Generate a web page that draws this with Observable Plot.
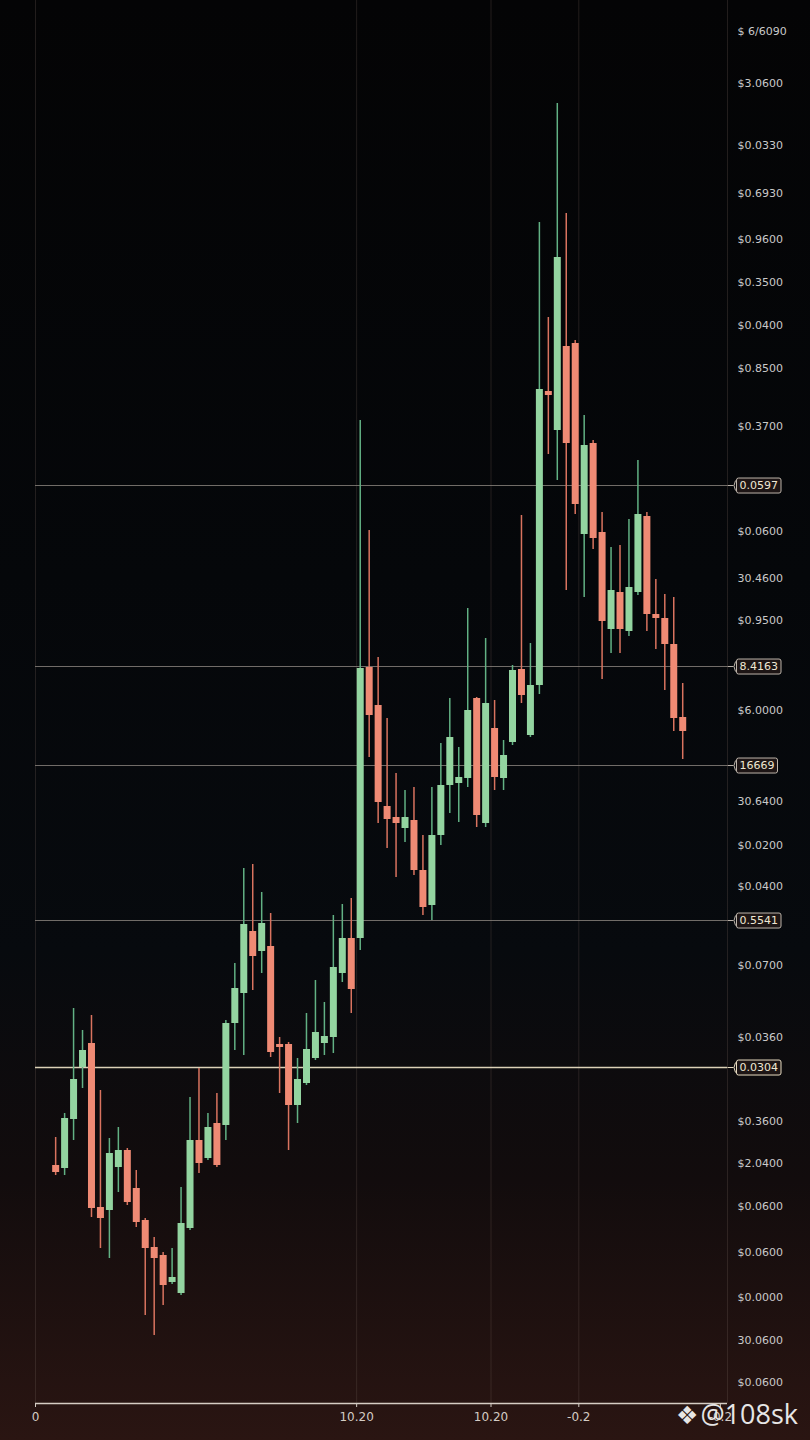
<!DOCTYPE html>
<html><head><meta charset="utf-8">
<script src="https://cdn.jsdelivr.net/npm/d3@7"></script>
<script src="https://cdn.jsdelivr.net/npm/@observablehq/plot@0.6"></script>
<style>
html,body{margin:0;padding:0;}
body{width:810px;height:1440px;overflow:hidden;position:relative;
  background:linear-gradient(to bottom,#040405 0%,#05070a 40%,#070a0e 66%,#120c0d 82%,#2a1512 100%);
  font-family:"DejaVu Sans",sans-serif;}
#chart{position:absolute;left:0;top:0;}
#wm{position:absolute;left:676px;top:1395px;color:#e6e6e6;font-family:"Open Sans",sans-serif;font-size:27px;white-space:nowrap;line-height:38px;}
#wm .logo{font-family:"DejaVu Sans";font-size:25px;margin-right:2px;}
</style></head><body>
<div id="chart"></div>
<div id="wm"><span class="logo">❖</span>@108sk</div>
<script>
// OHLC values
const open  = [0.238,0.235,0.284,0.336,0.360,0.196,0.193,0.236,0.253,0.215,0.183,0.156,0.148,0.121,0.110,0.175,0.263,0.245,0.280,0.278,
               0.380,0.410,0.472,0.452,0.457,0.359,0.359,0.298,0.320,0.345,0.360,0.366,0.430,0.465,0.465,0.736,0.698,0.597,0.586,0.575,
               0.583,0.533,0.498,0.568,0.618,0.620,0.625,0.705,0.580,0.675,0.625,0.661,0.734,0.668,0.718,1.012,0.973,1.057,1.060,0.869,
               0.960,0.871,0.774,0.811,0.772,0.811,0.887,0.789,0.785,0.759,0.686];
const high  = [0.266,0.290,0.395,0.373,0.388,0.313,0.265,0.276,0.255,0.233,0.185,0.166,0.151,0.155,0.216,0.306,0.335,0.290,0.310,0.383,
               0.440,0.535,0.539,0.511,0.490,0.366,0.361,0.345,0.390,0.423,0.401,0.488,0.499,0.505,0.983,0.873,0.746,0.685,0.630,0.613,
               0.616,0.568,0.616,0.660,0.705,0.656,0.795,0.706,0.765,0.703,0.663,0.738,0.888,0.760,1.181,1.086,1.300,1.190,1.063,0.988,
               0.963,0.891,0.856,0.858,0.884,0.943,0.891,0.824,0.809,0.806,0.720];
const low   = [0.228,0.228,0.263,0.315,0.186,0.155,0.145,0.211,0.198,0.176,0.088,0.068,0.098,0.119,0.108,0.173,0.230,0.243,0.236,0.263,
               0.353,0.348,0.413,0.430,0.346,0.310,0.253,0.280,0.318,0.343,0.348,0.350,0.421,0.390,0.453,0.646,0.580,0.555,0.526,0.561,
               0.528,0.488,0.483,0.558,0.590,0.581,0.616,0.576,0.576,0.613,0.613,0.658,0.700,0.666,0.709,0.949,0.923,0.813,0.889,0.806,
               0.854,0.724,0.750,0.750,0.767,0.808,0.772,0.754,0.713,0.672,0.644];
const close = [0.231,0.285,0.324,0.353,0.195,0.185,0.250,0.253,0.201,0.181,0.155,0.145,0.118,0.126,0.180,0.263,0.240,0.276,0.238,0.380,
               0.415,0.479,0.447,0.480,0.351,0.356,0.298,0.324,0.354,0.371,0.367,0.436,0.465,0.414,0.735,0.688,0.601,0.584,0.580,0.586,
               0.533,0.496,0.568,0.618,0.666,0.626,0.693,0.588,0.700,0.626,0.648,0.733,0.708,0.718,1.014,1.008,1.146,0.960,0.899,0.958,
               0.865,0.782,0.813,0.774,0.816,0.889,0.789,0.785,0.759,0.685,0.672];

// right axis tick labels (as shown)
const yTickValues = [1.372,1.320,1.258,1.210,1.164,1.121,1.078,1.035,0.977,0.872,0.825,0.783,0.693,0.602,0.558,0.517,0.438,0.366,0.282,0.240,0.197,0.151,0.106,0.063,0.021];
const yTickLabels = ["$ 6/6090","$3.0600","$0.0330","$0.6930","$0.9600","$0.3500","$0.0400","$0.8500","$0.3700","$0.0600","30.4600","$0.9500","$6.0000","30.6400","$0.0200","$0.0400","$0.0700","$0.0360","$0.3600","$2.0400","$0.0600","$0.0600","$0.0000","30.0600","$0.0600"];

// highlighted price levels with boxed labels
const levelValues = [0.918,0.737,0.638,0.483,0.336];
const levelLabels = ["0.0597","8.4163","16669","0.5541","0.0304"];

// bottom axis ticks
const xTickValues = [-2.25,33.6,48.6,58.4,74.2];
const xTickLabels = ["0","10.20","10.20","-0.2","-0.2"];
const xGridValues = [-2.25,33.6,48.6,58.4,75];

const candles = open.map((o,i)=>({i, o, h:high[i], l:low[i], c:close[i]}));
const levels = levelValues.map((v,i)=>({v, t:levelLabels[i], hi: i===levelValues.length-1}));
const yLab = new Map(yTickValues.map((v,i)=>[v,yTickLabels[i]]));
const xLab = new Map(xTickValues.map((v,i)=>[v,xTickLabels[i]]));

const GREEN="#93d4a0", RED="#ef8a74", GREEN_W="#62b184", RED_W="#d9735f";
const up = d => d.c >= d.o;

const plot = Plot.plot({
  width:810, height:1440,
  marginLeft:35, marginRight:83, marginTop:0, marginBottom:37,
  x:{domain:[-2.25,75], label:null},
  y:{domain:[0,1.403], label:null},
  style:{background:"transparent", color:"#cfcfcf", fontFamily:"DejaVu Sans, sans-serif"},
  marks:[
    Plot.ruleX(xGridValues,{stroke:"#6a5a52", strokeOpacity:0.3, strokeWidth:1}),
    Plot.ruleY(levels,{y:"v", stroke:d=>d.hi?"#e8dcc2":"#8c8680", strokeWidth:d=>d.hi?1.4:1, strokeOpacity:d=>d.hi?0.95:0.8}),
    Plot.ruleX(candles,{x:"i", y1:"l", y2:"h", stroke:d=>up(d)?GREEN_W:RED_W, strokeWidth:1.5}),
    Plot.ruleX(candles,{x:"i", y1:"o", y2:"c", stroke:d=>up(d)?GREEN:RED, strokeWidth:7}),
    Plot.ruleY([0],{stroke:"#d6cdc4", strokeWidth:1.6}),
    Plot.axisX({ticks:xTickValues, tickFormat:d=>xLab.get(d), tickSize:4, tickPadding:5, color:"#d4ccc4", fontSize:12, label:null}),
    Plot.axisY({anchor:"right", ticks:yTickValues, tickFormat:d=>yLab.get(d), tickSize:0, tickPadding:10, color:"#c9c9c9", fontSize:11, label:null}),
    Plot.text(levels,{y:"v", text:"t", frameAnchor:"right", dx:12, textAnchor:"start", fill:"#efe6d2", fontSize:11})
  ]
});
document.getElementById("chart").append(plot);
const svgNS="http://www.w3.org/2000/svg";
Array.from(plot.querySelectorAll("text")).filter(t=>levelLabels.includes(t.textContent)).forEach(t=>{
  const k = levelLabels.indexOf(t.textContent);
  const b=t.getBBox();
  const tr = t.getAttribute("transform");
  const col = k===levelValues.length-1 ? "#e8dcc2" : "#bdb4aa";
  const r=document.createElementNS(svgNS,"rect");
  r.setAttribute("x",b.x-3); r.setAttribute("y",b.y-1);
  r.setAttribute("width",b.width+6); r.setAttribute("height",b.height+2);
  r.setAttribute("rx",2); r.setAttribute("fill","#1d1515"); r.setAttribute("stroke",col); r.setAttribute("stroke-width",1);
  if (tr) r.setAttribute("transform",tr);
  t.parentNode.insertBefore(r,t);
  const cy=b.y+b.height/2;
  const p=document.createElementNS(svgNS,"path");
  p.setAttribute("d",`M${b.x-12},${cy}H${b.x-6}M${b.x-4},${cy-5}q-3,5 0,10`);
  p.setAttribute("fill","none"); p.setAttribute("stroke",col); p.setAttribute("stroke-width",1);
  if (tr) p.setAttribute("transform",tr);
  t.parentNode.insertBefore(p,r);
});
</script>
</body></html>
